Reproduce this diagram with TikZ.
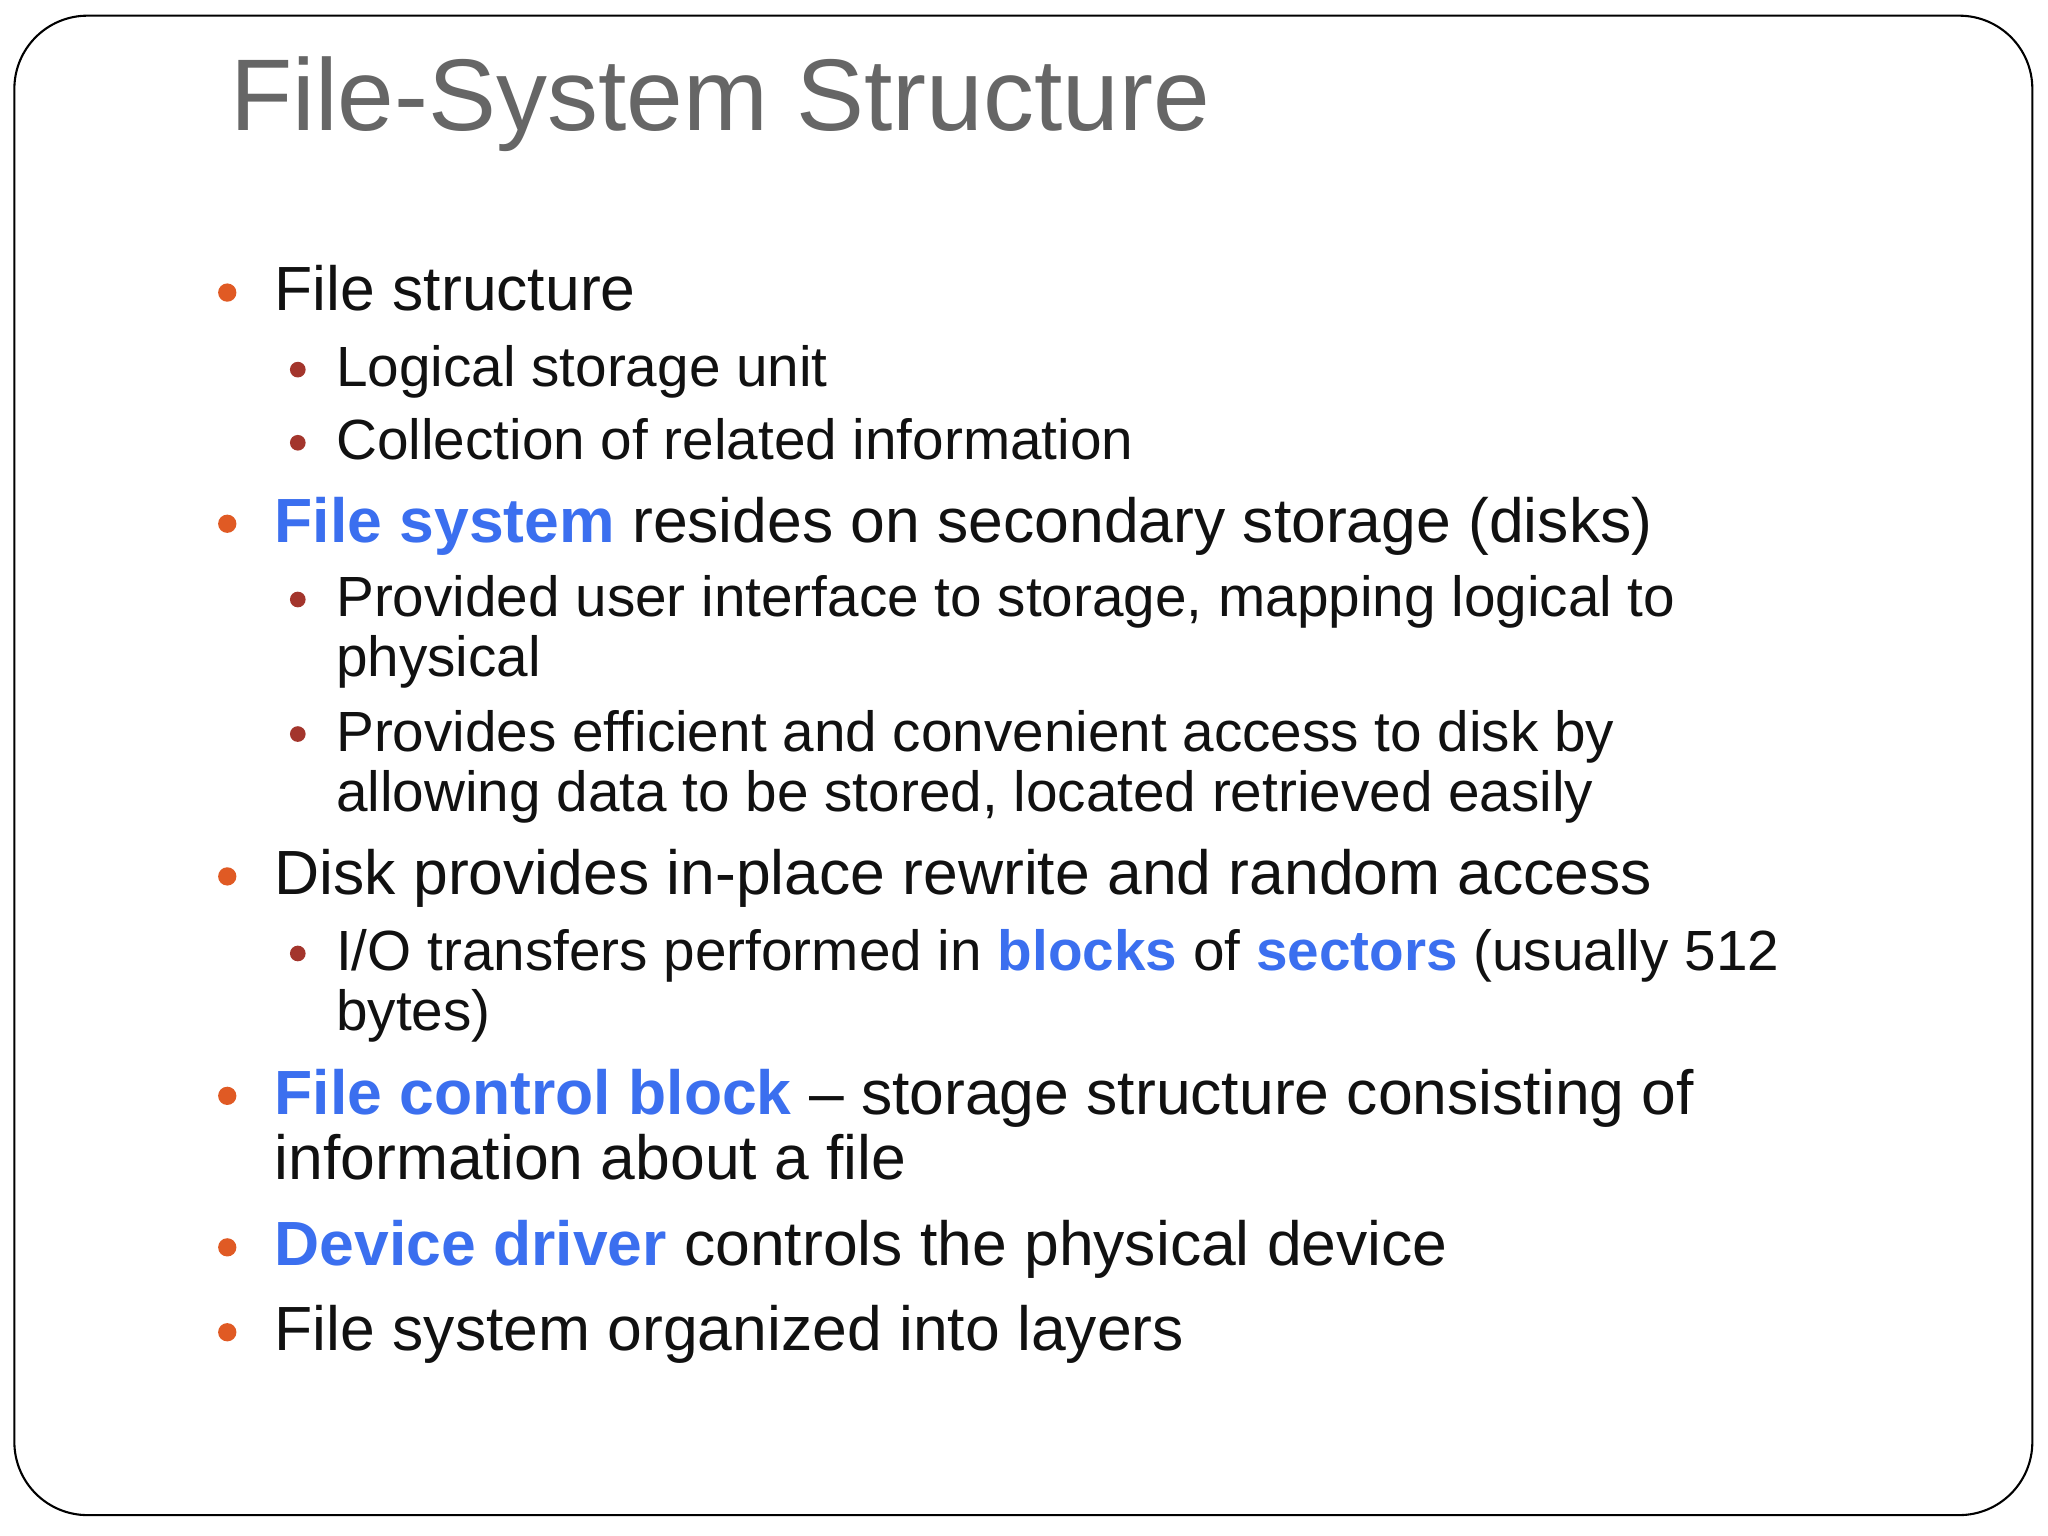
\documentclass[tikz,border=0pt]{standalone}
\usepackage{fontspec}
\setmainfont{Liberation Sans}
\definecolor{ttl}{HTML}{666666}
\definecolor{blu}{HTML}{3B6FEF}
\definecolor{bor}{HTML}{E05A24}
\definecolor{bsub}{HTML}{A3352C}
\definecolor{txt}{HTML}{111111}
\newcommand{\hl}[1]{\textcolor{blu}{\textbf{#1}}}
\begin{document}
\begin{tikzpicture}[x=0.5pt,y=-0.5pt,
  top/.style={anchor=base west,inner sep=0pt,font=\fontsize{23.9}{28}\selectfont,text=txt},
  sub/.style={anchor=base west,inner sep=0pt,font=\fontsize{21.7}{26}\selectfont,text=txt},
  bt/.style={fill=bor,draw=none},
  bs/.style={fill=bsub,draw=none}]
\useasboundingbox (0,0) rectangle (1568,1176);
\fill[white] (0,0) rectangle (1568,1176);
\draw[line width=0.8pt,rounded corners=28pt] (11,12) rectangle (1556,1160);
\node[anchor=base west,inner sep=0pt,font=\fontsize{39}{44}\selectfont,text=ttl] (title) at (176,100) {File-System Structure};
\foreach \y in {238,415,685,853,969,1034} \fill[bt] (174,\y-14) circle (7);
\foreach \y in {296,352,472,575,743} \fill[bs] (228,\y-13) circle (6);
\node[top] (t1) at (210,238) {File structure};
\node[sub] (s1) at (257,296) {Logical storage unit};
\node[sub] (s2) at (257,352) {Collection of related information};
\node[top] (t2) at (210,415) {\hl{File system} resides on secondary storage (disks)};
\node[sub] (s3) at (257,472) {Provided user interface to storage, mapping logical to};
\node[sub] (s3b) at (257,518) {physical};
\node[sub] (s4) at (257,575) {Provides efficient and convenient access to disk by};
\node[sub] (s4b) at (257,621) {allowing data to be stored, located retrieved easily};
\node[top] (t3) at (210,685) {Disk provides in-place rewrite and random access};
\node[sub] (s5) at (257,743) {I/O transfers performed in \hl{blocks} of \hl{sectors} (usually 512};
\node[sub] (s5b) at (257,789) {bytes)};
\node[top] (t4) at (210,853) {\hl{File control block} -- storage structure consisting of};
\node[top] (t4b) at (210,903) {information about a file};
\node[top] (t5) at (210,969) {\hl{Device driver} controls the physical device};
\node[top] (t6) at (210,1034) {File system organized into layers};
\end{tikzpicture}
\end{document}
